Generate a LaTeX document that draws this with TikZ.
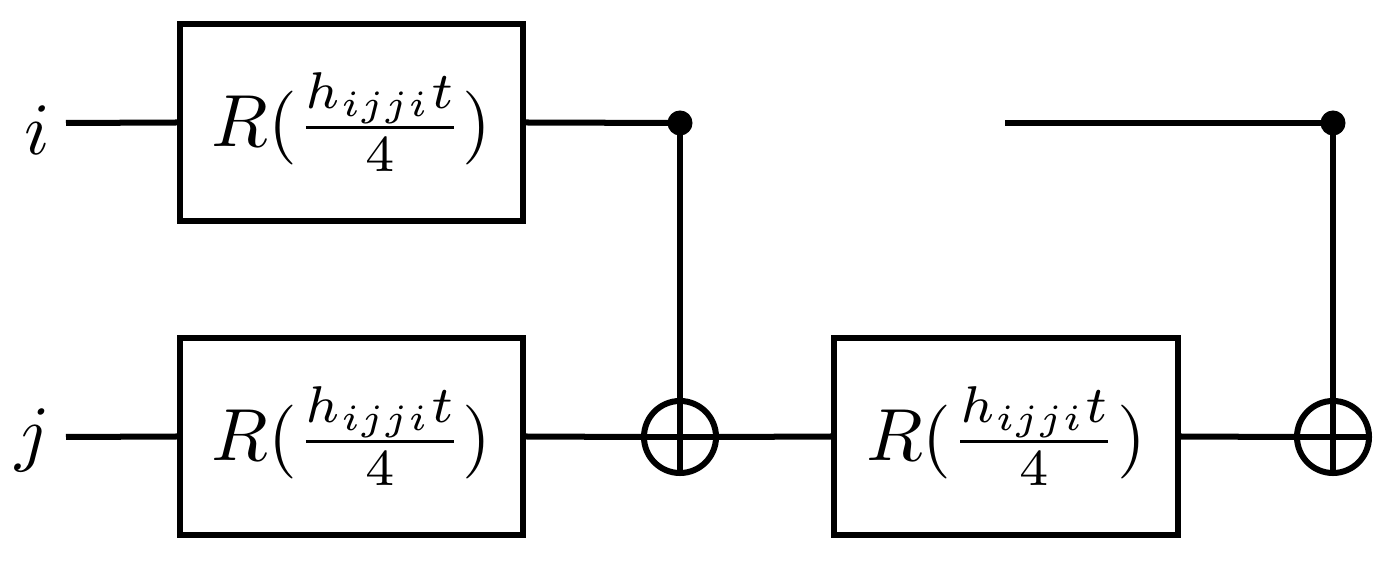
\documentclass[tikz,border=0pt]{standalone}
\begin{document}
\begin{tikzpicture}[x=0.01cm,y=-0.01cm,line width=0.06cm,
  gate/.style={draw,minimum width=3.43cm,minimum height=1.96cm,inner sep=0},
  lbl/.style={scale=2.1},
  ctrl/.style={circle,fill,inner sep=0,minimum size=0.25cm},
  targ/.style={circle,draw,inner sep=0,minimum size=0.72cm}]
\useasboundingbox (0,0) rectangle (1387,561);
\node[gate] (g1) at (351.5,122.5) {};
\node[gate] (g2) at (351.5,436.5) {};
\node[gate] (g3) at (1006,436.5) {};
\node[lbl] at (g1) {$R(\frac{h_{ijji}t}{4})$};
\node[lbl] at (g2) {$R(\frac{h_{ijji}t}{4})$};
\node[lbl] at (g3) {$R(\frac{h_{ijji}t}{4})$};
\node[lbl,anchor=east,inner sep=1pt] (i) at (64,130) {$i$};
\node[lbl,anchor=east,inner sep=1pt] (j) at (64,440) {$j$};
\coordinate (iw) at (66,123);
\coordinate (jw) at (66,437);
\node[ctrl] (c1) at (680,123) {};
\node[targ] (t1) at (680,437) {};
\coordinate (s2) at (1005,123);
\node[ctrl] (c2) at (1333,123) {};
\node[targ] (t2) at (1333,437) {};
\draw (iw) -- (g1.west);
\draw (jw) -- (g2.west);
\draw (g1.east) -- (c1.center);
\draw (c1.center) -- (t1.south);
\draw (g2.east) -- (t1.west);
\draw (t1.west) -- (t1.east);
\draw (t1.east) -- (g3.west);
\draw (s2) -- (c2.center);
\draw (c2.center) -- (t2.south);
\draw (g3.east) -- (t2.west);
\draw (t2.west) -- (t2.east);
\end{tikzpicture}
\end{document}
